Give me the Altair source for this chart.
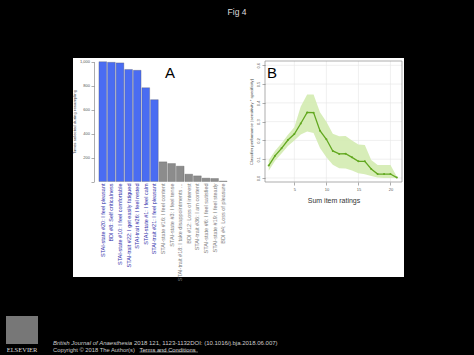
import altair as alt
import pandas as pd

# ---------------- data ----------------
bar_labels = [
    "STAI-state #20: I feel pleasant",
    "BDI #8: Self criticalness",
    "STAI-state #10: I feel comfortable",
    "STAI-trait #22: I get easily fatigued",
    "STAI-trait #26: I feel rested",
    "STAI-state #1: I feel calm",
    "STAI-trait #21: I feel pleasant",
    "STAI-state #16: I feel content",
    "STAI-state #3: I feel tense",
    "STAI-trait #18: I take disappointments ...",
    "BDI #12: Loss of interest",
    "STAI-trait #36: I am content",
    "STAI-state #6: I feel satisfied",
    "STAI-state #19: I feel steady",
    "BDI #4: Loss of pleasure",
]
bar_counts = [1000, 995, 990, 935, 928, 783, 683, 164, 150, 128, 61, 47, 28, 25, 4]
bar_group = ["selected"] * 7 + ["other"] * 8

ratings = list(range(1, 22))
perf = [0.066, 0.119, 0.158, 0.202, 0.234, 0.290, 0.349, 0.348, 0.252, 0.206, 0.144,
        0.128, 0.129, 0.110, 0.089, 0.089, 0.048, 0.021, 0.021, 0.021, 0.002]
perf_lo = [0.038, 0.092, 0.130, 0.170, 0.200, 0.232, 0.248, 0.240, 0.160, 0.110, 0.070,
           0.052, 0.050, 0.040, 0.025, 0.020, 0.010, 0.002, 0.0, 0.0, 0.0]
perf_hi = [0.095, 0.145, 0.185, 0.230, 0.270, 0.380, 0.445, 0.445, 0.350, 0.300, 0.235,
           0.222, 0.224, 0.200, 0.178, 0.176, 0.096, 0.069, 0.069, 0.069, 0.006]

a_ticks = [0, 200, 400, 600, 800, 1000]
b_yticks = [0.0, 0.1, 0.2, 0.3, 0.4, 0.5, 0.6]
b_xticks = [5, 10, 15, 20]

bars = pd.DataFrame({"label": bar_labels, "count": bar_counts, "group": bar_group})
curve = pd.DataFrame({"r": ratings, "p": perf, "lo": perf_lo, "hi": perf_hi})
one = alt.Data(values=[{}])
FONT = "Liberation Sans"

# ---------------- scales ----------------
xA_scale = alt.Scale(domain=bar_labels, range=[98.5, 227.5], paddingInner=0.1, paddingOuter=0.05)
yA_scale = alt.Scale(domain=[0, 1000], range=[181.5, 61.7], nice=False, zero=True)
xB_scale = alt.Scale(domain=[0.42, 21.8], range=[265, 402], nice=False, zero=False)
yB_scale = alt.Scale(domain=[0, 0.6], range=[178, 65.3], nice=False, zero=False)
grp_scale = alt.Scale(domain=["selected", "other"], range=["#4a6cf2", "#8c8c8c"])
grp_text_scale = alt.Scale(domain=["selected", "other"], range=["#2e2eaa", "#7d7d7d"])

layers = []

# white panel
layers.append(alt.Chart(one).mark_rect(color="white").encode(
    x=alt.value(73), x2=alt.value(404), y=alt.value(58), y2=alt.value(277)))

# ---- panel A ----
layers.append(alt.Chart(bars).mark_bar(stroke="#555555", strokeWidth=0.3).encode(
    x=alt.X("label:N", sort=bar_labels, scale=xA_scale, axis=None),
    y=alt.Y("count:Q", scale=yA_scale, axis=alt.Axis(
        orient="left", offset=-94, values=a_ticks, zindex=2,
        labelExpr="datum.value == 0 ? '' : datum.label",
        labelFontSize=4, labelColor="#555", labelFont=FONT, labelPadding=1.5,
        tickSize=3, tickColor="#777", domainColor="#777", tickWidth=0.6, domainWidth=0.6,
        grid=False, title="Times selected during resampling", titleFontSize=4.3,
        titleFontWeight="normal", titleColor="#444", titleFont=FONT, titlePadding=3,
        titleY=121.5, titleAlign="center")),
    color=alt.Color("group:N", scale=grp_scale, legend=None),
))
layers.append(alt.Chart(bars).mark_text(angle=270, align="right", baseline="middle",
                                         fontSize=5.5, font=FONT).encode(
    x=alt.X("label:N", sort=bar_labels, scale=xA_scale, axis=None),
    y=alt.value(183.5),
    text="label:N",
    color=alt.Color("group:N", scale=grp_text_scale, legend=None),
))
layers.append(alt.Chart(one).mark_text(text="A", fontSize=15, font=FONT, color="black").encode(
    x=alt.value(170), y=alt.value(73)))

# ---- panel B ----
gx = pd.DataFrame({"r": b_xticks})
gy = pd.DataFrame({"p": b_yticks})
layers.append(alt.Chart(gx).mark_rule(color="#e6e6e6", strokeWidth=0.6).encode(
    x=alt.X("r:Q", scale=xB_scale, axis=None), y=alt.value(61), y2=alt.value(182)))
layers.append(alt.Chart(gy).mark_rule(color="#e6e6e6", strokeWidth=0.6).encode(
    y=alt.Y("p:Q", scale=yB_scale, axis=None), x=alt.value(265), x2=alt.value(402)))
layers.append(alt.Chart(curve).mark_area(color="#d3ebb0", opacity=0.9).encode(
    x=alt.X("r:Q", scale=xB_scale, axis=None),
    y=alt.Y("lo:Q", scale=yB_scale, axis=None),
    y2="hi:Q"))
layers.append(alt.Chart(curve).mark_line(color="#62a81f", strokeWidth=1.3).encode(
    x=alt.X("r:Q", scale=xB_scale, axis=alt.Axis(
        orient="bottom", offset=-173, values=b_xticks, labelFontSize=4, labelColor="#555",
        labelFont=FONT, tickSize=3, tickColor="#777", domain=False, grid=False, zindex=2,
        tickWidth=0.6, labelPadding=2,
        title="Sum item ratings", titleFontSize=7, titleFontWeight="normal",
        titleColor="#333333", titleFont=FONT, titlePadding=5)),
    y=alt.Y("p:Q", scale=yB_scale, axis=alt.Axis(
        orient="left", offset=-265, values=b_yticks, format=".1f", labelFontSize=4,
        labelColor="#555", labelFont=FONT, labelAngle=270, labelAlign="center",
        labelBaseline="bottom", tickSize=3, tickColor="#777", domain=False, grid=False,
        tickWidth=0.6, labelPadding=2, zindex=2,
        title="Classifier performance (sensitivity * specificity)", titleFontSize=4.2,
        titleFontWeight="normal", titleColor="#444", titleFont=FONT, titlePadding=3,
        titleY=121.5, titleAlign="center")),
))
layers.append(alt.Chart(curve).mark_point(color="#62a81f", filled=True, size=4, opacity=1).encode(
    x=alt.X("r:Q", scale=xB_scale, axis=None),
    y=alt.Y("p:Q", scale=yB_scale, axis=None)))
layers.append(alt.Chart(one).mark_rect(fill=None, stroke="#8a8a8a", strokeWidth=0.7).encode(
    x=alt.value(265), x2=alt.value(402), y=alt.value(61), y2=alt.value(182)))
layers.append(alt.Chart(one).mark_text(text="B", fontSize=15, font=FONT, color="black").encode(
    x=alt.value(272), y=alt.value(73)))

# ---- slide decorations ----
layers.append(alt.Chart(one).mark_text(text="Fig 4", fontSize=8.5, font=FONT, color="#dddddd").encode(
    x=alt.value(237), y=alt.value(12)))
layers.append(alt.Chart(one).mark_rect(color="#777777").encode(
    x=alt.value(6), x2=alt.value(38), y=alt.value(316), y2=alt.value(344)))
layers.append(alt.Chart(one).mark_text(text="ELSEVIER", fontSize=6.5, font="Liberation Serif",
                                       color="#dddddd", align="center").encode(
    x=alt.value(22), y=alt.value(350)))
layers.append(alt.Chart(one).mark_text(text="British Journal of Anaesthesia", fontSize=6,
                                       font=FONT, fontStyle="italic", color="#cccccc",
                                       align="left").encode(x=alt.value(53), y=alt.value(343)))
layers.append(alt.Chart(one).mark_text(text="2018 121, 1123-1132DOI: (10.1016/j.bja.2018.06.007)",
                                       fontSize=6, font=FONT, color="#cccccc",
                                       align="left").encode(x=alt.value(134), y=alt.value(343)))
layers.append(alt.Chart(one).mark_text(text="Copyright \u00a9 2018 The Author(s)", fontSize=5.8,
                                       font=FONT, color="#cccccc", align="left").encode(
    x=alt.value(53), y=alt.value(349.5)))
layers.append(alt.Chart(one).mark_text(text="Terms and Conditions", fontSize=5.8, font=FONT,
                                       color="#dddddd", align="left").encode(
    x=alt.value(139.5), y=alt.value(349.5)))
layers.append(alt.Chart(one).mark_rule(color="#cccccc", strokeWidth=0.5).encode(
    x=alt.value(139.5), x2=alt.value(198), y=alt.value(352)))

chart = alt.layer(*layers).resolve_scale(
    x="independent", y="independent", color="independent"
).properties(
    width=474, height=355, autosize=alt.AutoSizeParams(type="none"), padding=0,
    background="black",
).configure_view(strokeWidth=0, fill=None)

chart.save("out.html", embed_options={"renderer": "svg", "actions": False})
